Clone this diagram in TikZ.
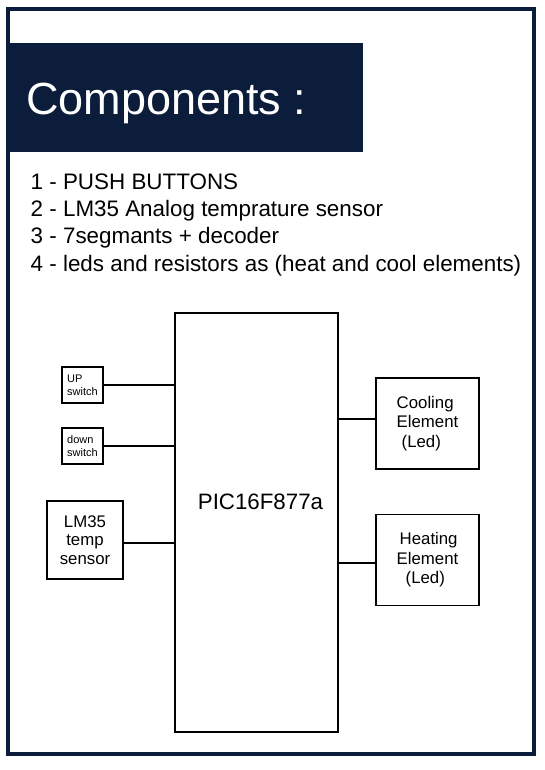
\documentclass[tikz,border=0pt]{standalone}
\usepackage{fontspec}
\setmainfont{Liberation Sans}
\definecolor{navy}{RGB}{11,29,58}
\tikzset{
	block/.style={draw, line width=1.6pt, rectangle, inner sep=0pt},
	swbox/.style={block, minimum width=41pt, minimum height=36pt, align=left, font=\fontsize{11}{13}\selectfont},
	partbox/.style={block, minimum width=103pt, minimum height=91pt, align=left, font=\fontsize{16.8}{19.5}\selectfont},
	wire/.style={line width=1.6pt},
	listitem/.style={anchor=base west, inner sep=0pt, font=\fontsize{22.4}{27}\selectfont}
}
\begin{document}
\begin{tikzpicture}[x=1pt,y=-1pt]
		\useasboundingbox (0,0) rectangle (544,770);
		\fill[navy] (8,43) rectangle (363,152.5);
		\draw[navy, line width=4pt] (8,9) rectangle (534,754);
		\node[anchor=base west, inner sep=0pt, text=white, font=\fontsize{45}{54}\selectfont] (title) at (26,115) {Components :};
		
		\foreach \t [count=\i] in {PUSH BUTTONS, LM35 Analog temprature sensor, 7segmants + decoder, leds and resistors as (heat and cool elements)}
			\node[listitem] (item\i) at (30.5,162.2+27.2*\i) {\i\ - \t};
		
		\node[block, minimum width=163pt, minimum height=419pt] (pic) at (256.5,522.5) {};
		\node[font=\fontsize{22.3}{26}\selectfont] (pictext) at (260.5,501.5) {PIC16F877a};
		
		\node[swbox] (up) at (82.5,385) {UP\\switch};
		\node[swbox] (down) at (82.5,446) {down\\switch};
		\node[block, minimum width=76pt, minimum height=78pt, align=center, font=\fontsize{16.8}{18.5}\selectfont] (lm) at (85,540) {LM35\\temp\\sensor};
		\node[partbox] (cool) at (427.5,423.5) {Cooling\\Element\\\hspace*{5pt}(Led)};
		\node[partbox] (heat) at (427.5,560) {\hspace*{3pt}Heating\\Element\\\hspace*{9pt}(Led)};
		
		\draw[wire] (up.east) -- (up -| pic.west);
		\draw[wire] (down.east) -- (down -| pic.west);
		\draw[wire] ([yshift=-3pt]lm.east) -- ([yshift=-3pt]lm.east -| pic.west);
		\draw[wire] ([yshift=4.5pt]cool.west) -- ([yshift=4.5pt]cool.west -| pic.east);
		\draw[wire] ([yshift=-3pt]heat.west) -- ([yshift=-3pt]heat.west -| pic.east);
	\end{tikzpicture}
\end{document}
